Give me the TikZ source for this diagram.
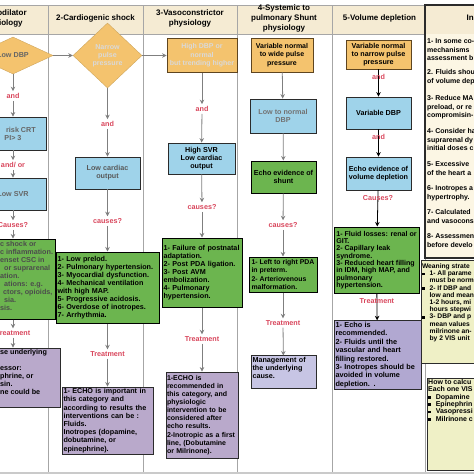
\documentclass[tikz,border=0pt]{standalone}
\usepackage{fontspec}
\setmainfont{Liberation Sans}
\usetikzlibrary{shapes.geometric}
\usetikzlibrary{arrows.meta}

\definecolor{hdrfill}{HTML}{F5EBD3}
\definecolor{orfill}{HTML}{F4C36E}
\definecolor{ordraw}{HTML}{5E4520}
\definecolor{blfill}{HTML}{9FD3EA}
\definecolor{grfill}{HTML}{6CB54F}
\definecolor{pufill}{HTML}{B9A9CB}
\definecolor{pufillb}{HTML}{C7C5E4}
\definecolor{pufillc}{HTML}{B1A8D1}
\definecolor{lblred}{HTML}{D8455B}
\definecolor{flowgray}{HTML}{7F7F7F}
\definecolor{sepgray}{HTML}{A6A6A6}
\definecolor{notefill}{HTML}{FCF6E4}
\definecolor{weanfill}{HTML}{EFF0C6}
\definecolor{boxline}{HTML}{2B2B2B}

\newcommand{\sqb}{\rule[0.4pt]{2.6pt}{2.6pt}\hspace{5pt}}
\newcommand{\wind}{\hspace*{7.6pt}}

\begin{document}
\begin{tikzpicture}[x=1pt,y=-1pt,
  every node/.style={font=\bfseries\fontsize{7.2}{8}\selectfont},
  hdr/.style={font=\bfseries\fontsize{8}{9.6}\selectfont, align=center, inner sep=0pt},
  lbl/.style={text=lblred, inner sep=2pt},
  dia/.style={diamond, fill=orfill, draw=orfill!85!black, inner sep=0pt, align=center},
  box/.style={rectangle, draw=boxline, line width=0.8pt, inner sep=1.5pt, align=center},
  orangebox/.style={box, fill=orfill, draw=ordraw},
  bluebox/.style={box, fill=blfill},
  greenbox/.style={box, fill=grfill, draw=black, line width=1pt, align=left},
  purplebox/.style={box, fill=pufill, align=left},
  weanbox/.style={rectangle, draw=boxline, line width=0.8pt, fill=weanfill},
  note/.style={anchor=north west, align=left, inner sep=0pt, font=\bfseries\fontsize{7}{8.6}\selectfont},
  flow/.style={draw=flowgray, line width=0.8pt, -{Stealth[length=4.5pt,width=4.5pt]}},
  flowdark/.style={draw=black, line width=0.8pt, -{Stealth[length=4.5pt,width=4.5pt]}}]

  \useasboundingbox (0,0) rectangle (474,474);
  \clip (0,0) rectangle (474,474);

  %% column grid
  \fill[hdrfill] (0,5) rectangle (425,34);
  \draw[sepgray] (0,5) -- (425,5);
  \draw[sepgray] (0,34) -- (425,34);
  \foreach \x in {48,143,237,332,425}
    \draw[sepgray] (\x,5) -- (\x,472);
  \draw[sepgray!60, line width=2pt] (0,473) -- (474,473);

  %% headers
  \node[hdr] (h1) at (1.5,18.5) {1-Vasodilator\\physiology};
  \node[hdr] (h2) at (95.5,18) {2-Cardiogenic shock};
  \node[hdr] (h3) at (190,18.5) {3-Vasoconstrictor\\physiology};
  \node[hdr, font=\bfseries\fontsize{8}{10}\selectfont] (h4) at (284,18) {4-Systemic to\\pulmonary Shunt\\physiology};
  \node[hdr] (h5) at (379.5,18) {5-Volume depletion};

  %% column 1
  \node[dia, text=black!60, minimum width=80pt, minimum height=37pt] (d1) at (13,55.5) {Low DBP};
  \node[lbl] (and1) at (13,96) {and};
  \node[bluebox, text=black!60, minimum width=66pt, minimum height=33pt] (b1) at (13,133.5) {\hspace*{16pt}risk CRT\\PI> 3};
  \node[lbl] (andor1) at (13,165) {and/ or};
  \node[bluebox, text=black!60, minimum width=66pt, minimum height=32pt] (b2) at (13,194) {Low SVR};
  \node[lbl] (causes1) at (13,225) {Causes?};
  \node[greenbox, minimum width=84pt, minimum height=80pt] (g1) at (13,279) {};
  \node[note, text=black!70, font=\bfseries\fontsize{7.2}{8}\selectfont] (g1t) at (0,241.5)
    {c shock or\\c inflammation.\\enset CSC in\\\hspace*{4pt}or suprarenal\\ation.\\\hspace*{4pt}ations: e.g.\\\hspace*{3pt}ctors, opioids,\\\hspace*{4pt}sia.\\sis.};
  \node[lbl] (treat1) at (13,333) {Treatment};
  \node[purplebox, minimum width=94pt, minimum height=59pt] (p1) at (13,377.5) {};
  \node[note, font=\bfseries\fontsize{7.2}{8}\selectfont] (p1t) at (0,349.5)
    {se underlying\\\mbox{}\\essor:\\phrine, or\\sin.\\ne could be};

  \draw[flow] (d1) -- (and1);
  \draw[flow] (and1) -- (b1);
  \draw[flow] (b1) -- (andor1);
  \draw[flow] (andor1) -- (b2);
  \draw[flow] (b2) -- (causes1);
  \draw[flow] (causes1) -- (g1);
  \draw[flow] (g1) -- (treat1);
  \draw[flow] (treat1) -- (p1);

  %% column 2
  \node[dia, text=white!85!black, minimum width=69pt, minimum height=65pt, font=\bfseries\fontsize{7.1}{8}\selectfont] (d2) at (107.5,55.5) {Narrow\\pulse\\pressure};
  \node[lbl] (and2) at (107.5,124) {and};
  \node[bluebox, text=black!65, minimum width=65pt, minimum height=32pt] (b3) at (107.5,173) {Low cardiac\\output};
  \node[lbl] (causes2) at (107.5,221) {causes?};
  \node[greenbox, minimum width=103pt, minimum height=71pt, text width=100pt] (g2) at (107.5,287.5)
    {1- Low prelod.\\2- Pulmonary hypertension.\\3- Myocardial dysfunction.\\4- Mechanical ventilation\\with high MAP.\\5- Progressive acidosis.\\6- Overdose of inotropes.\\7- Arrhythmia.};
  \node[lbl] (treat2) at (107.5,354) {Treatment};
  \node[purplebox, minimum width=91pt, minimum height=67pt, text width=88pt, font=\bfseries\fontsize{7.2}{8.2}\selectfont] (p2) at (107.5,420.5)
    {1- ECHO is important in\\this category and\\according to results the\\interventions can be :\\Fluids.\\Inotropes (dopamine,\\dobutamine, or\\epinephrine).};

  \draw[flow] (d1) -- (d2);
  \draw[flow] (d2) -- (and2);
  \draw[flow] (and2) -- (b3);
  \draw[flow] (b3) -- (causes2);
  \draw[flow] (causes2) -- (g2);
  \draw[flow] (g2) -- (treat2);
  \draw[flow] (treat2) -- (p2);

  %% column 3
  \node[orangebox, text=white!85!black, minimum width=70pt, minimum height=34pt, inner sep=0.5pt, font=\bfseries\fontsize{7}{8.5}\selectfont] (o3) at (202,55.5) {High DBP or\\normal\\but trending higher};
  \node[lbl] (and3) at (202,109) {and};
  \node[bluebox, minimum width=67pt, minimum height=31pt] (b4) at (201.5,158.5) {High SVR\\Low cardiac\\output};
  \node[lbl] (causes3) at (202,207) {causes?};
  \node[greenbox, minimum width=80pt, minimum height=69pt, text width=77pt] (g3) at (202,272.5)
    {1- Failure of postnatal\\adaptation.\\2- Post PDA ligation.\\3- Post AVM\\embolization.\\4- Pulmonary\\hypertension.};
  \node[lbl] (treat3) at (202,339) {Treatment};
  \node[purplebox, minimum width=72pt, minimum height=86pt, text width=70pt, inner sep=1pt, font=\bfseries\fontsize{7}{8.1}\selectfont] (p3) at (202,415)
    {1-ECHO is\\recommended in\\this category, and\\physiologic\\intervention to be\\considered after\\echo results.\\2-Inotropic as a first\\line, (Dobutamine\\or Milrinone).};

  \draw[flow] (d2) -- (o3);
  \draw[flow] (o3) -- (and3);
  \draw[flow] (and3) -- (b4);
  \draw[flow] (b4) -- (causes3);
  \draw[flow] (causes3) -- (g3);
  \draw[flow] (g3) -- (treat3);
  \draw[flow] (treat3) -- (p3);

  %% column 4
  \node[orangebox, minimum width=62pt, minimum height=34pt, inner sep=0.5pt, font=\bfseries\fontsize{7}{8.5}\selectfont] (o4) at (282,55) {Variable normal\\to wide pulse\\pressure};
  \node[bluebox, text=black!55, minimum width=66pt, minimum height=34pt] (b5) at (283,116) {Low to normal\\DBP};
  \node[greenbox, align=center, minimum width=65pt, minimum height=32pt] (e4) at (283.5,177) {Echo evidence of\\shunt};
  \node[lbl] (causes4) at (283,225) {causes?};
  \node[greenbox, minimum width=68pt, minimum height=35pt, inner sep=1pt, font=\bfseries\fontsize{6.9}{8.3}\selectfont] (g4) at (283,274.5)
    {1- Left to right PDA\\in preterm.\\2- Arteriovenous\\malformation.};
  \node[lbl] (treat4) at (283,323) {Treatment};
  \node[purplebox, fill=pufillb, minimum width=65pt, minimum height=32pt, text width=62pt] (p4) at (283.5,372) {Management of\\the underlying\\cause.\\\mbox{}};

  \draw[flow] (o4) -- (b5);
  \draw[flow] (b5) -- (e4);
  \draw[flow] (e4) -- (causes4);
  \draw[flow] (causes4) -- (g4);
  \draw[flow] (g4) -- (treat4);
  \draw[flow] (treat4) -- (p4);

  %% column 5
  \node[orangebox, minimum width=65pt, minimum height=29pt, font=\bfseries\fontsize{7.2}{8.3}\selectfont] (o5) at (378.5,54.5) {Variable normal\\to narrow pulse\\pressure};
  \node[bluebox, minimum width=65pt, minimum height=32pt] (b6) at (378.5,113) {Variable DBP};
  \node[bluebox, minimum width=65pt, minimum height=33pt] (b7) at (378.5,173.5) {Echo evidence of\\volume depletion};
  \node[greenbox, minimum width=85pt, minimum height=66pt, font=\bfseries\fontsize{7.1}{7.3}\selectfont] (g5) at (376.5,260)
    {1- Fluid losses: renal or\\GIT.\\2- Capillary leak\\syndrome.\\3- Reduced heart filling\\in IDM, high MAP, and\\pulmonary\\hypertension.};
  \node[purplebox, fill=pufillc, minimum width=87pt, minimum height=68pt, text width=84pt, font=\bfseries\fontsize{7.3}{8.4}\selectfont] (p5) at (377.5,355)
    {1- Echo is\\recommended.\\2- Fluids until the\\vascular and heart\\filling restored.\\3- Inotropes should be\\avoided in volume\\depletion. .};

  \draw[flowdark] (o5) -- node[lbl, pos=0.29] (and5a) {and} (b6);
  \draw[flowdark] (b6) -- node[lbl, pos=0.29] (and5b) {and} (b7);
  \draw[flowdark] (b7) -- node[lbl, pos=0.22] (causes5) {Causes?} (g5);
  \draw[flowdark] (g5) -- node[lbl, pos=0.29] (treat5) {Treatment} (p5);

  %% notes panel
  \fill[notefill] (425,5) rectangle (480,258);
  \fill[hdrfill] (425,5) rectangle (480,34);
  \draw[boxline, line width=1.3pt] (480,5) -- (425,5) -- (425,258) -- (480,258);
  \node[hdr, anchor=west] (h6) at (466.5,18) {In};
  \node[note] (n1) at (427,38.5) {1- In some co-\\mechanisms\\assessment b};
  \node[note] (n2) at (427,69.5) {2. Fluids shou\\of volume dep};
  \node[note] (n3) at (427,95.5) {3- Reduce MA\\preload, or re\\compromisin-};
  \node[note] (n4) at (427,128.5) {4- Consider ha\\suprarenal dy\\initial doses c};
  \node[note] (n5) at (427,161.5) {5- Excessive\\of the heart a};
  \node[note] (n6) at (427,185.5) {6- Inotropes a\\hypertrophy.};
  \node[note] (n7) at (427,209.5) {7- Calculated\\and vasocons};
  \node[note] (n8) at (427,233.5) {8- Assessmen\\before develo};

  %% weaning box
  \node[weanbox, minimum width=56pt, minimum height=103pt] (wean) at (449,311.5) {};
  \node[note, font=\bfseries\fontsize{6.7}{7.2}\selectfont] (weant) at (421.8,263.5)
    {Weaning strate\\\sqb 1- All parame\\\wind must be norm\\\sqb 2- If DBP and\\\wind low and mean\\\wind 1-2 hours, mi\\\wind hours stepwi\\\sqb 3- DBP and p\\\wind mean values\\\wind milrinone an-\\\wind by 2 VIS unit};

  %% VIS box
  \node[weanbox, minimum width=50pt, minimum height=92pt] (calc) at (452,424) {};
  \node[note, font=\bfseries\fontsize{7}{7.4}\selectfont] (calct) at (428,379)
    {How to calcu\\Each one VIS\\\sqb Dopamine\\\sqb Epinephrin\\\sqb Vasopressi\\\sqb Milrinone c};
\end{tikzpicture}
\end{document}
